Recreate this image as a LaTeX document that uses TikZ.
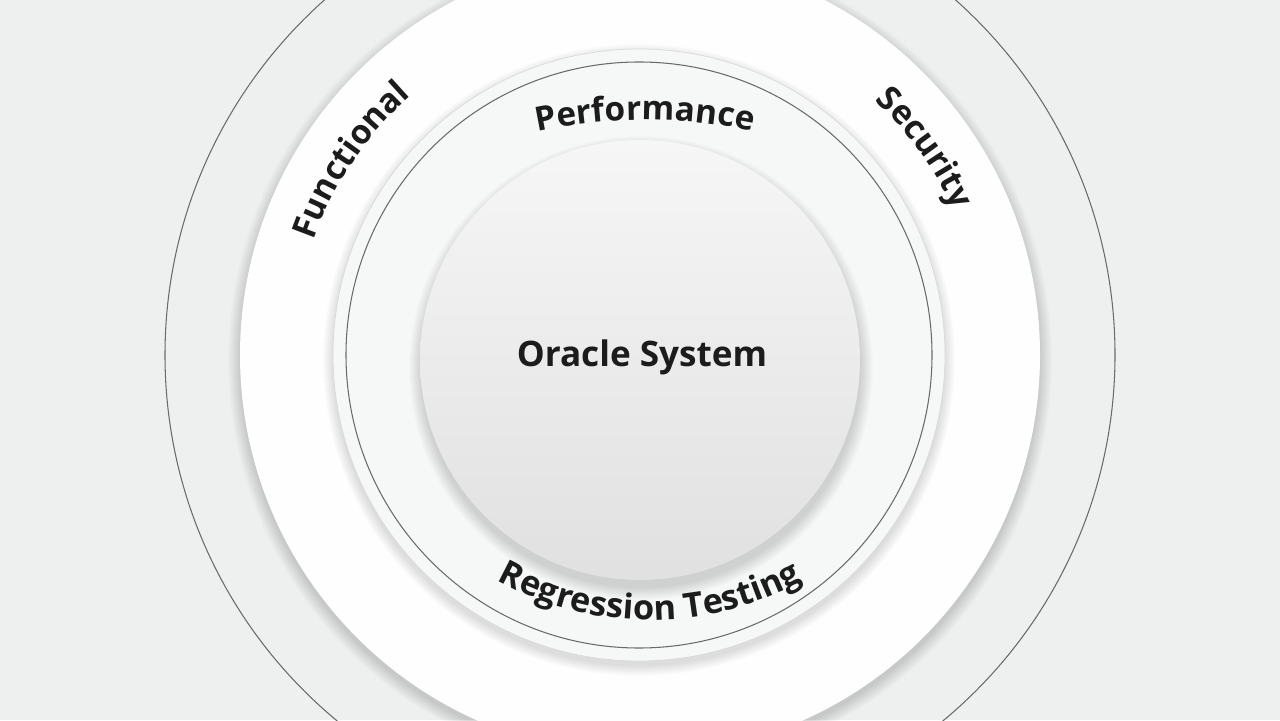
\documentclass[tikz,border=0pt]{standalone}
\usepackage{fontspec}
\setmainfont{Open Sans}
\newfontfamily\ringfont{Open Sans}
\newfontfamily\wideringfont{Open Sans}[LetterSpace=3]
\usetikzlibrary{decorations.text}
\definecolor{bgcol}{RGB}{238,240,240}
\definecolor{ringline}{RGB}{105,107,107}
\definecolor{inktext}{RGB}{28,28,28}
\definecolor{midfill}{RGB}{246,247,247}
\tikzset{
  ringlabel/.style={decorate, decoration={text along path, text align=center,
      text color=inktext, text={|\ringfont\bfseries\fontsize{19}{22}\selectfont|#1}}},
  wideringlabel/.style={decorate, decoration={text along path, text align=center,
      text color=inktext, text={|\ringfont\bfseries\fontsize{19.5}{22}\selectfont|#1}}},
  thinring/.style={draw=ringline, line width=0.6pt},
  softshadow/.style={fill=black, opacity=0.012}
}
\begin{document}
\begin{tikzpicture}[x=0.02cm,y=0.02cm]
  \useasboundingbox (0,0) rectangle (1280,720);
  \fill[bgcol] (0,0) rectangle (1280,720);
  \coordinate (c) at (640,365);
  \begin{scope}
    \clip (0,0) rectangle (1280,720);
    \draw[thinring] (c) circle (475);
    \foreach \i in {0,...,12}
      \fill[softshadow] (640,360) circle (400+\i);
    \fill[white!97!bgcol] (c) circle (400);
    \foreach \i in {0,...,10}
      \fill[softshadow] (639,360) circle (306+\i);
    \filldraw[fill=midfill, draw=gray!30, line width=0.4pt] (639,365) circle (306);
    \draw[thinring] (639,365) circle (293);
    \foreach \i in {0,...,12}
      \fill[softshadow] (641,352) circle (220+\i);
    \shade[top color=gray!7, bottom color=gray!24] (640,360) circle (220);
  \end{scope}
  \node[font=\ringfont\bfseries\fontsize{20}{24}\selectfont, text=inktext] (sys) at (642,363) {Oracle System};
  \path[ringlabel=Performance] (645,80) ++(112:520) arc (112:68:520);
  \path[wideringlabel=Regression Testing] (650,415) ++(222:315) arc (222:318:315);
  \path[ringlabel=Functional] (c) ++(170:346) arc (170:122:346);
  \path[ringlabel=Security] (c) ++(58:346) arc (58:14:346);
\end{tikzpicture}
\end{document}
